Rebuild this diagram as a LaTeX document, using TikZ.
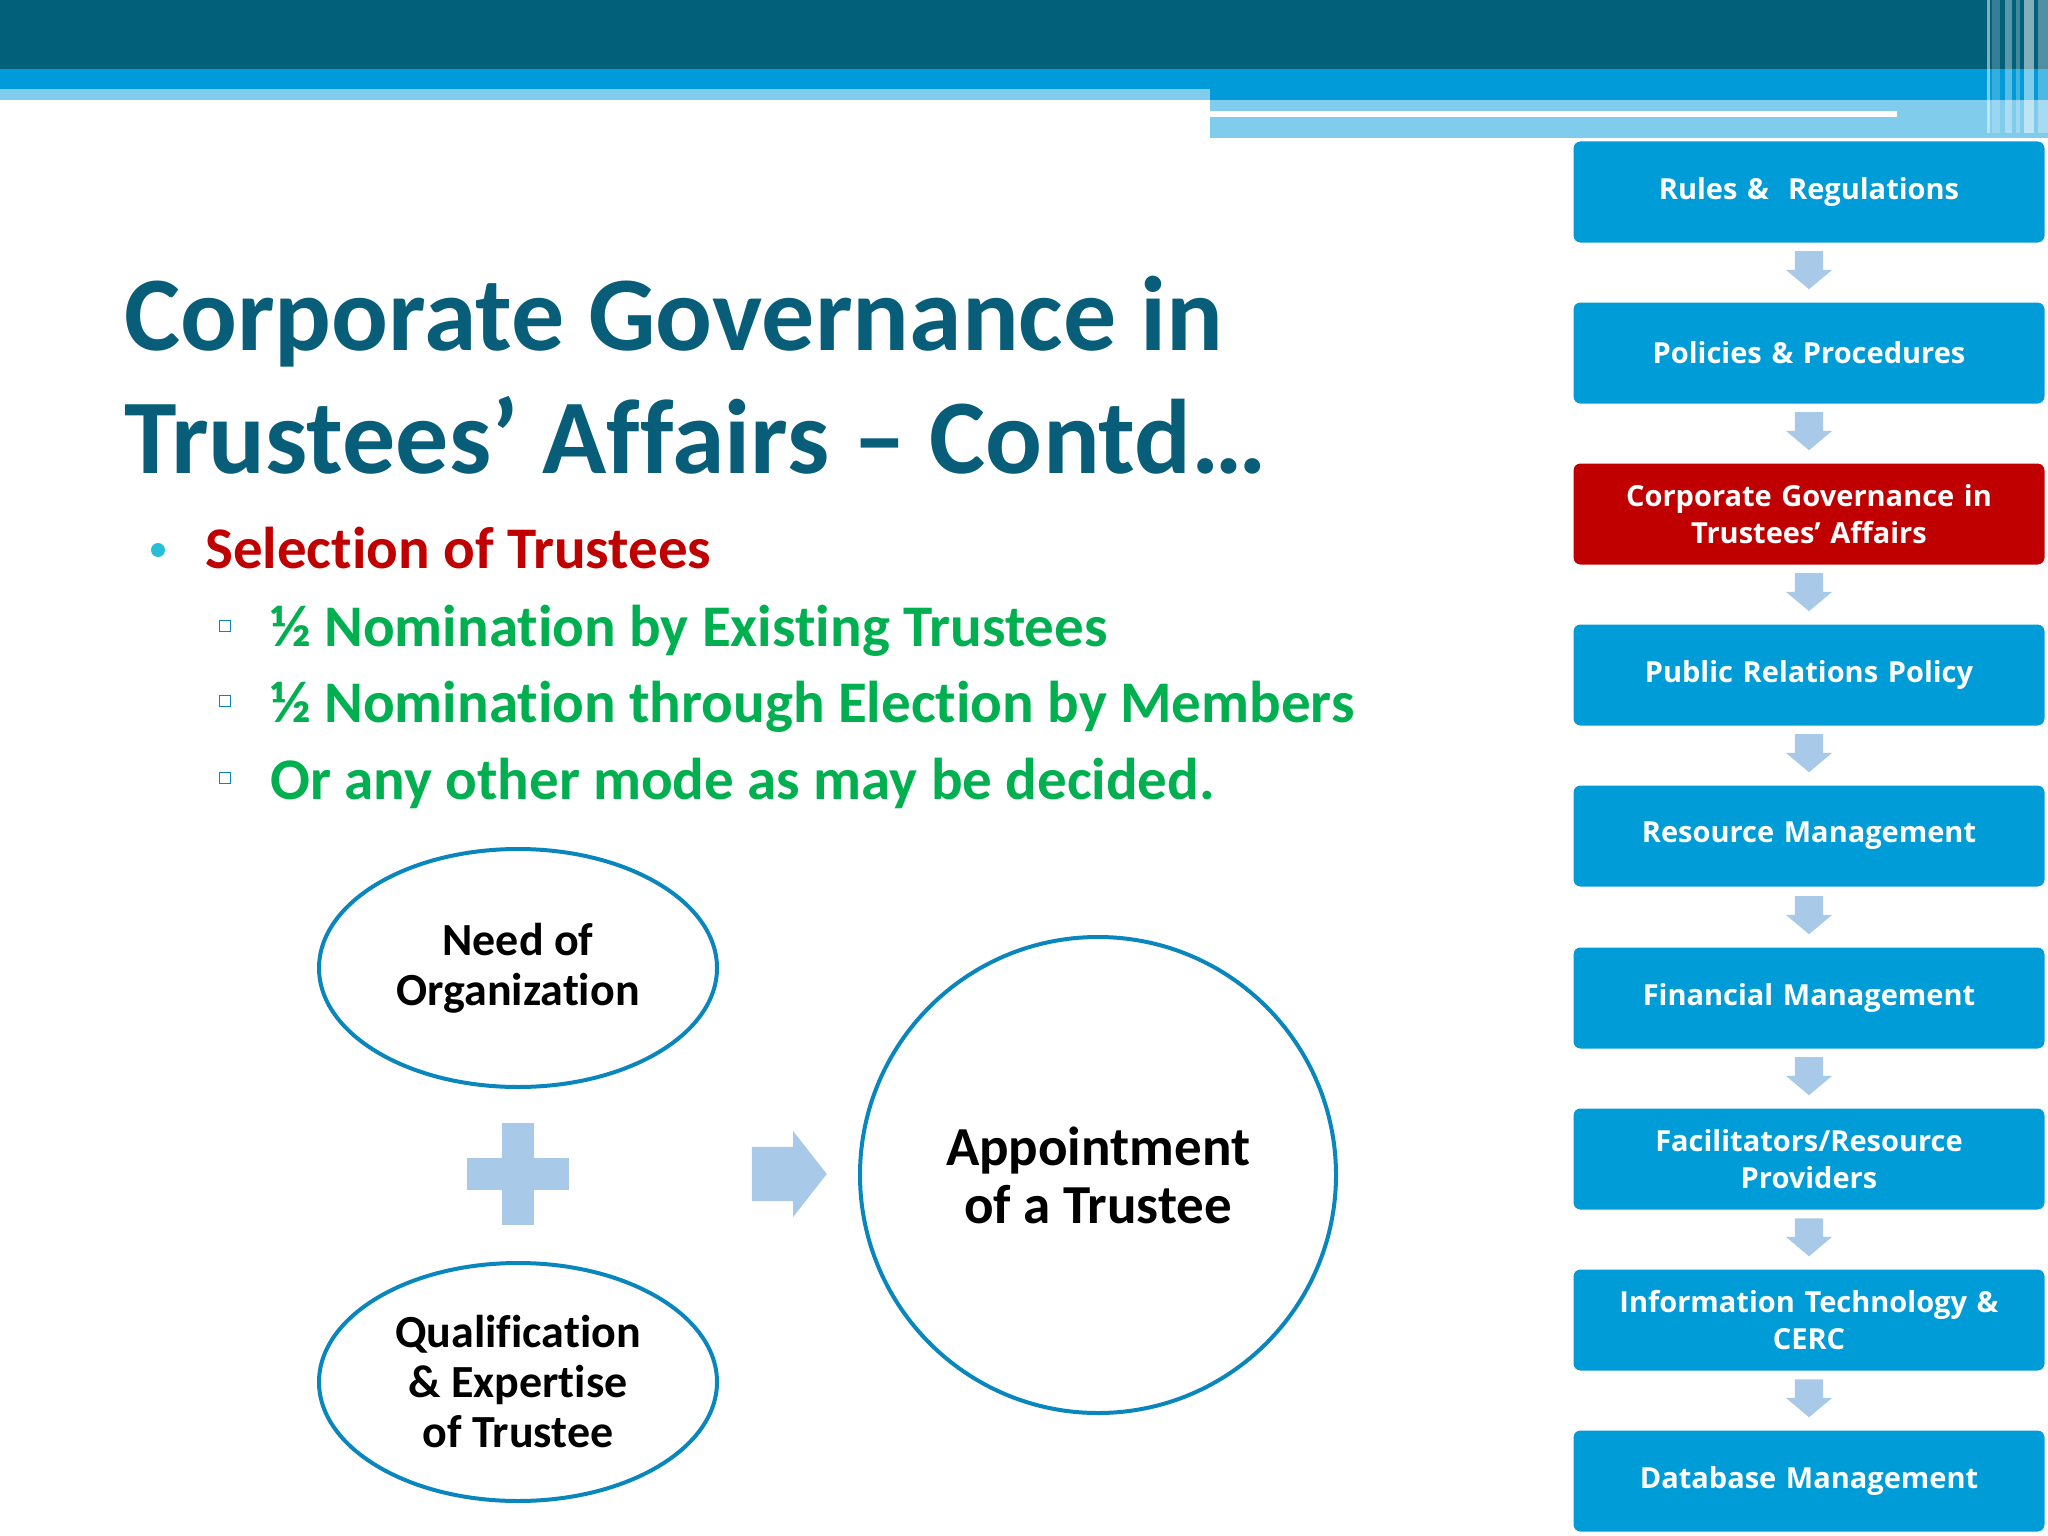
\documentclass[tikz,border=0pt]{standalone}
\usepackage{fontspec}
\setmainfont{Carlito}[Ligatures=NoCommon]
\newfontfamily\boxfont{Open Sans}
\usetikzlibrary{shapes.arrows,shapes.geometric,calc,positioning}

\definecolor{bannerdark}{RGB}{3,96,122}
\definecolor{bannerblue}{RGB}{0,155,216}
\definecolor{bannerlight}{RGB}{128,204,236}
\definecolor{titleteal}{RGB}{8,94,120}
\definecolor{boxblue}{RGB}{0,156,216}
\definecolor{boxred}{RGB}{192,0,0}
\definecolor{arrowblue}{RGB}{168,202,232}
\definecolor{ringblue}{RGB}{10,134,190}
\definecolor{bulletgreen}{RGB}{0,176,80}
\definecolor{dotcyan}{RGB}{40,190,215}

\begin{document}
\begin{tikzpicture}[
    x=1pt, y=-1pt,
    stepbox/.style={rectangle, rounded corners=8pt, draw=white, line width=3pt, fill=boxblue, minimum width=474pt, minimum height=104pt, text width=450pt, align=center, text=white, font=\boxfont\bfseries\fontsize{29}{37}\selectfont},
    downarrow/.style={single arrow, shape border rotate=270, fill=arrowblue, minimum width=46pt, single arrow head extend=9pt, single arrow tip angle=100, minimum height=38pt, inner xsep=14pt, inner ysep=0pt, anchor=tip},
    rightarrow/.style={single arrow, fill=arrowblue, minimum width=86pt, single arrow head extend=16pt, single arrow tip angle=104, minimum height=75pt, inner xsep=0pt, inner ysep=27pt, anchor=tip},
    ring/.style={draw=ringblue, line width=4pt, align=center, font=\bfseries\fontsize{46}{50}\selectfont},
    sqbullet/.style={rectangle, draw=ringblue, line width=1.5pt, minimum size=11pt, inner sep=0pt},
    greenline/.style={anchor=base west, inner sep=0pt, text=bulletgreen, font=\bfseries\fontsize{59}{66}\selectfont}
]
% Slide background and banner
\fill[white] (0,0) rectangle (2048,1536);
\fill[bannerdark] (0,0) rectangle (2048,69);
\fill[bannerblue] (0,69) rectangle (1210,89);
\fill[bannerlight] (0,89) rectangle (1210,100);
\fill[bannerblue] (1210,69) rectangle (2048,100);
\fill[bannerlight] (1210,100) rectangle (2048,138);
\fill[white] (1210,111) rectangle (1897,117);
\fill[white, opacity=0.5] (1987,0) rectangle (1990,133);
\fill[white, opacity=0.2] (1992,0) rectangle (2000,133);
\fill[white, opacity=0.35] (2005,0) rectangle (2012,133);
\fill[white, opacity=0.25] (2016,0) rectangle (2020,133);
\fill[white, opacity=0.5] (2024,0) rectangle (2034,133);
\fill[white, opacity=0.3] (2038,0) rectangle (2048,133);

% Title
\node[anchor=base west, inner sep=0pt, text=titleteal, font=\bfseries\fontsize{106}{120}\selectfont] (title1) at (124,350) {Corporate Governance in};
\node[anchor=base west, inner sep=0pt, text=titleteal, font=\bfseries\fontsize{106}{120}\selectfont] (title2) at (124,473) {Trustees’ Affairs – Contd…};

% Bullets
\node[circle, fill=dotcyan, minimum size=14pt, inner sep=0pt] (dot1) at (158,550) {};
\node[anchor=base west, inner sep=0pt, text=boxred, font=\bfseries\fontsize{59}{66}\selectfont] (select) at (205,568) {Selection of Trustees};
\node[sqbullet] (sq1) at (225,626) {};
\node[sqbullet] (sq2) at (225,701) {};
\node[sqbullet] (sq3) at (225,778) {};
\node[greenline] (line1) at (270,646) {½ Nomination by Existing Trustees};
\node[greenline] (line2) at (270,722) {½ Nomination through Election by Members};
\node[greenline] (line3) at (270,799) {Or any other mode as may be decided.};

% Appointment diagram
\node[ring, ellipse, minimum width=398pt, minimum height=238pt] (need) at (518,968) {Need of\\Organization};
\node[ring, ellipse, minimum width=398pt, minimum height=238pt] (qualif) at (518,1382) {Qualification\\\& Expertise\\of Trustee};
\node[ring, circle, minimum size=476pt, font=\bfseries\fontsize{55}{58}\selectfont] (appoint) at (1098,1175) {Appointment\\of a Trustee};
\fill[arrowblue] (467,1158) rectangle (569,1190);
\fill[arrowblue] (502,1123) rectangle (534,1225);
\node[rightarrow] (go) at (827,1174) {};

% Right column
\node[stepbox] (b1) at (1809,192) {Rules \& \ Regulations};
\node[stepbox] (b2) at (1809,353) {Policies \& Procedures};
\node[stepbox, fill=boxred] (b3) at (1809,514) {Corporate Governance in\\Trustees’ Affairs};
\node[stepbox] (b4) at (1809,675) {Public Relations Policy};
\node[stepbox] (b5) at (1809,836) {Resource Management};
\node[stepbox] (b6) at (1809,998) {Financial Management};
\node[stepbox] (b7) at (1809,1159) {Facilitators/Resource\\Providers};
\node[stepbox] (b8) at (1809,1320) {Information Technology \&\\CERC};
\node[stepbox] (b9) at (1809,1481) {Database Management};

% Arrows between steps
\foreach \a/\b in {b1/b2, b2/b3, b3/b4, b4/b5, b5/b6, b6/b7, b7/b8, b8/b9}
    \node[downarrow] at ($(\b.north)+(0,-10)$) {};

\end{tikzpicture}
\end{document}
